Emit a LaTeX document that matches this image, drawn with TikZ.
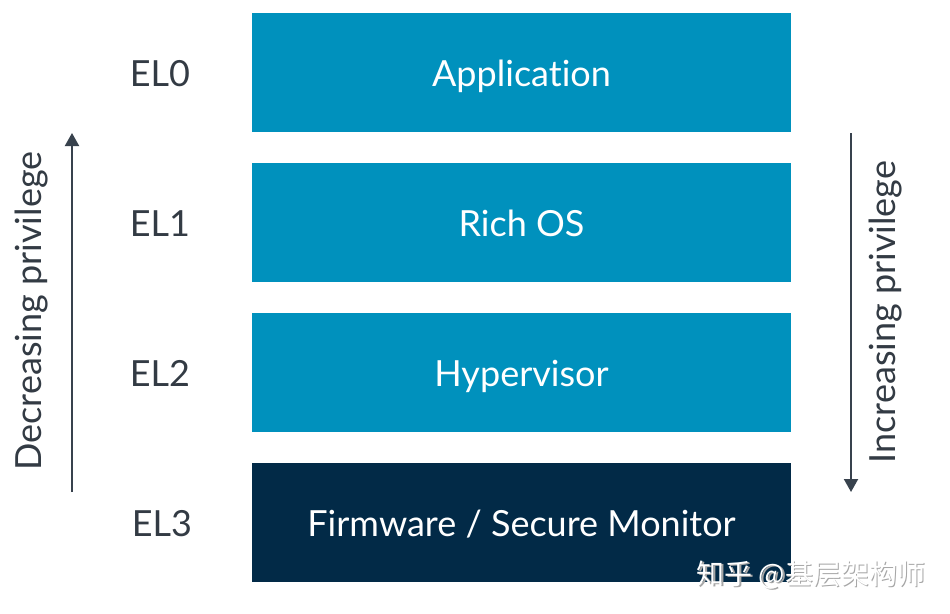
\documentclass[tikz,border=0pt]{standalone}
\usepackage{fontspec}
\setmainfont[Ligatures=NoCommon]{Lato}
\newfontfamily\cjkfont{Noto Sans CJK SC}
\usetikzlibrary{arrows.meta}
\definecolor{boxblue}{HTML}{0091BD}
\definecolor{boxnavy}{HTML}{022A47}
\definecolor{txtgray}{HTML}{333B44}
\definecolor{arrgray}{HTML}{38424D}
\begin{document}
\begin{tikzpicture}[x=1pt,y=-1pt,
  layer/.style={fill=boxblue,draw=none,minimum width=539pt,minimum height=119pt,inner sep=0pt},
  layertext/.style={text=white,font=\fontsize{36}{40}\selectfont,inner sep=0pt,anchor=base},
  elabel/.style={text=txtgray,font=\fontsize{36}{40}\selectfont,inner sep=0pt,anchor=base},
  privarrow/.style={draw=arrgray,line width=2pt,-{Triangle[width=14pt,length=13pt]}},
  sidetext/.style={text=txtgray,font=\fontsize{36}{40}\selectfont,inner sep=0pt}]
\fill[white] (0,0) rectangle (950,613);
\useasboundingbox (0,0) rectangle (950,613);
\node[layer] (app) at (521.5,72.5) {};
\node[layer] (rich) at (521.5,222.5) {};
\node[layer] (hyp) at (521.5,372.5) {};
\node[layer,fill=boxnavy] (fw) at (521.5,522.5) {};
\node[layertext] (appt) at ([yshift=-14pt]app.center) {Application};
\node[layertext] (richt) at ([yshift=-14pt]rich.center) {Rich OS};
\node[layertext] (hypt) at ([yshift=-14pt]hyp.center) {Hypervisor};
\node[layertext] (fwt) at ([yshift=-14pt]fw.center) {Firmware / Secure Monitor};
\node[elabel] (el0) at (160,86.5) {EL0};
\node[elabel] (el1) at (160,236.5) {EL1};
\node[elabel] (el2) at (160,386.5) {EL2};
\node[elabel] (el3) at (162,536.5) {EL3};
\coordinate (lb) at (72,492);
\coordinate (lt) at (72,133);
\coordinate (rt) at (851,133);
\coordinate (rb) at (851,492);
\draw[privarrow] (lb) -- (lt);
\draw[privarrow] (rt) -- (rb);
\node[sidetext,rotate=90] (dec) at (32,311) {Decreasing privilege};
\node[sidetext,rotate=90] (inc) at (886,312) {Increasing privilege};
\node[text=gray!70,font=\cjkfont\fontsize{28}{30}\selectfont,anchor=center] (wms) at (812.5,576.5) {知乎 @基层架构师};
\node[text=white,font=\cjkfont\fontsize{28}{30}\selectfont,anchor=center] (wm) at (811,575) {知乎 @基层架构师};
\end{tikzpicture}
\end{document}
